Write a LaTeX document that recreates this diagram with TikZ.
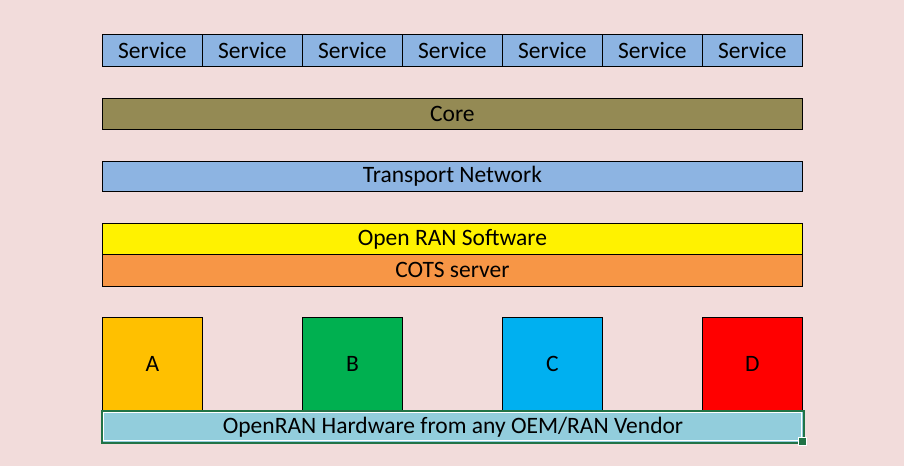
\documentclass[tikz,border=0pt]{standalone}
\usepackage{fontspec}
\setmainfont{Carlito}
\definecolor{bg}{HTML}{F2DCDB}
\definecolor{svc}{HTML}{8DB4E2}
\definecolor{core}{HTML}{948A54}
\definecolor{ranA}{HTML}{FFC000}
\definecolor{ranB}{HTML}{00B050}
\definecolor{ranC}{HTML}{00B0F0}
\definecolor{hw}{HTML}{92CDDC}
\definecolor{xlgreen}{HTML}{217346}
\definecolor{cots}{HTML}{F79646}
\begin{document}
\begin{tikzpicture}[x=1pt,y=-1pt,
  box/.style={draw=black,line width=0.8pt,inner sep=0pt,anchor=north west,font=\fontsize{23.5}{25}\selectfont}]
\useasboundingbox (0,0) rectangle (909,466);
\fill[bg] (0,0) rectangle (904,466);
\fill[white] (904,0) rectangle (909,466);
\foreach \i in {0,...,6}
  \node[box,fill=svc,minimum width=100pt,minimum height=32pt] (s\i) at ({102+100*\i},34) {Service};
\node[box,fill=core,minimum width=700pt,minimum height=31pt] (core) at (102,98) {Core};
\node[box,fill=svc,minimum width=700pt,minimum height=30pt] (tn) at (102,161) {Transport Network};
\node[box,fill=yellow,minimum width=700pt,minimum height=31pt] (sw) at (102,223) {Open RAN Software};
\node[box,fill=cots,minimum width=700pt,minimum height=32pt] (cots) at (102,254) {COTS server};
\node[box,fill=ranA,minimum width=100pt,minimum height=93pt] (a) at (102,317) {A};
\node[box,fill=ranB,minimum width=100pt,minimum height=93pt] (b) at (302,317) {B};
\node[box,fill=ranC,minimum width=100pt,minimum height=93pt] (c) at (502,317) {C};
\node[box,fill=red,minimum width=100pt,minimum height=93pt] (d) at (702,317) {D};
\node[box,draw=xlgreen,line width=2pt,fill=hw,minimum width=702pt,minimum height=32pt] (hw) at (101,410) {OpenRAN Hardware from any OEM/RAN Vendor};
\draw[white,line width=0.8pt] (103,412) rectangle (801,440);
\fill[white] (798,437) rectangle (807,446);
\fill[xlgreen] (799,438) rectangle (806,445);
\end{tikzpicture}
\end{document}
